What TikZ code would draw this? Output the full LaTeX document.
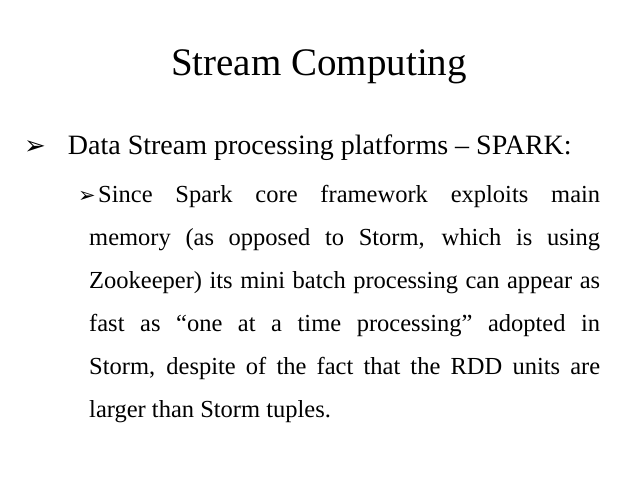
\documentclass[tikz,border=0pt]{standalone}
\usepackage{fontspec}
\setmainfont{Liberation Serif}
\newfontfamily\symfont{DejaVu Sans}
\begin{document}
\begin{tikzpicture}[x=1pt,y=1pt]
\useasboundingbox[fill=white] (0,0) rectangle (638,-478);
\node[font=\fontsize{39}{44}\selectfont,anchor=base] (title) at (319,-76) {Stream Computing};
\node[font=\fontsize{28}{32}\selectfont,anchor=base west,inner sep=0] (b1) at (24,-155) {{\symfont\fontsize{26}{30}\selectfont ➢}\hspace{22pt}Data Stream processing platforms -- SPARK:};
\node[font=\fontsize{24.5}{43}\selectfont,anchor=north west,inner sep=0,text width=511pt,align=justify] (b2) at (89,-185)
{\hyphenpenalty=10000\exhyphenpenalty=10000\hspace*{-11pt}\makebox[20pt][l]{\symfont\fontsize{21}{24}\selectfont ➢}Since Spark core framework exploits main\linebreak memory (as opposed to Storm, which is using\linebreak Zookeeper) its mini batch processing can appear as\linebreak fast as “one at a time processing” adopted in\linebreak Storm, despite of the fact that the RDD units are\linebreak larger than Storm tuples.\par};
\end{tikzpicture}
\end{document}
